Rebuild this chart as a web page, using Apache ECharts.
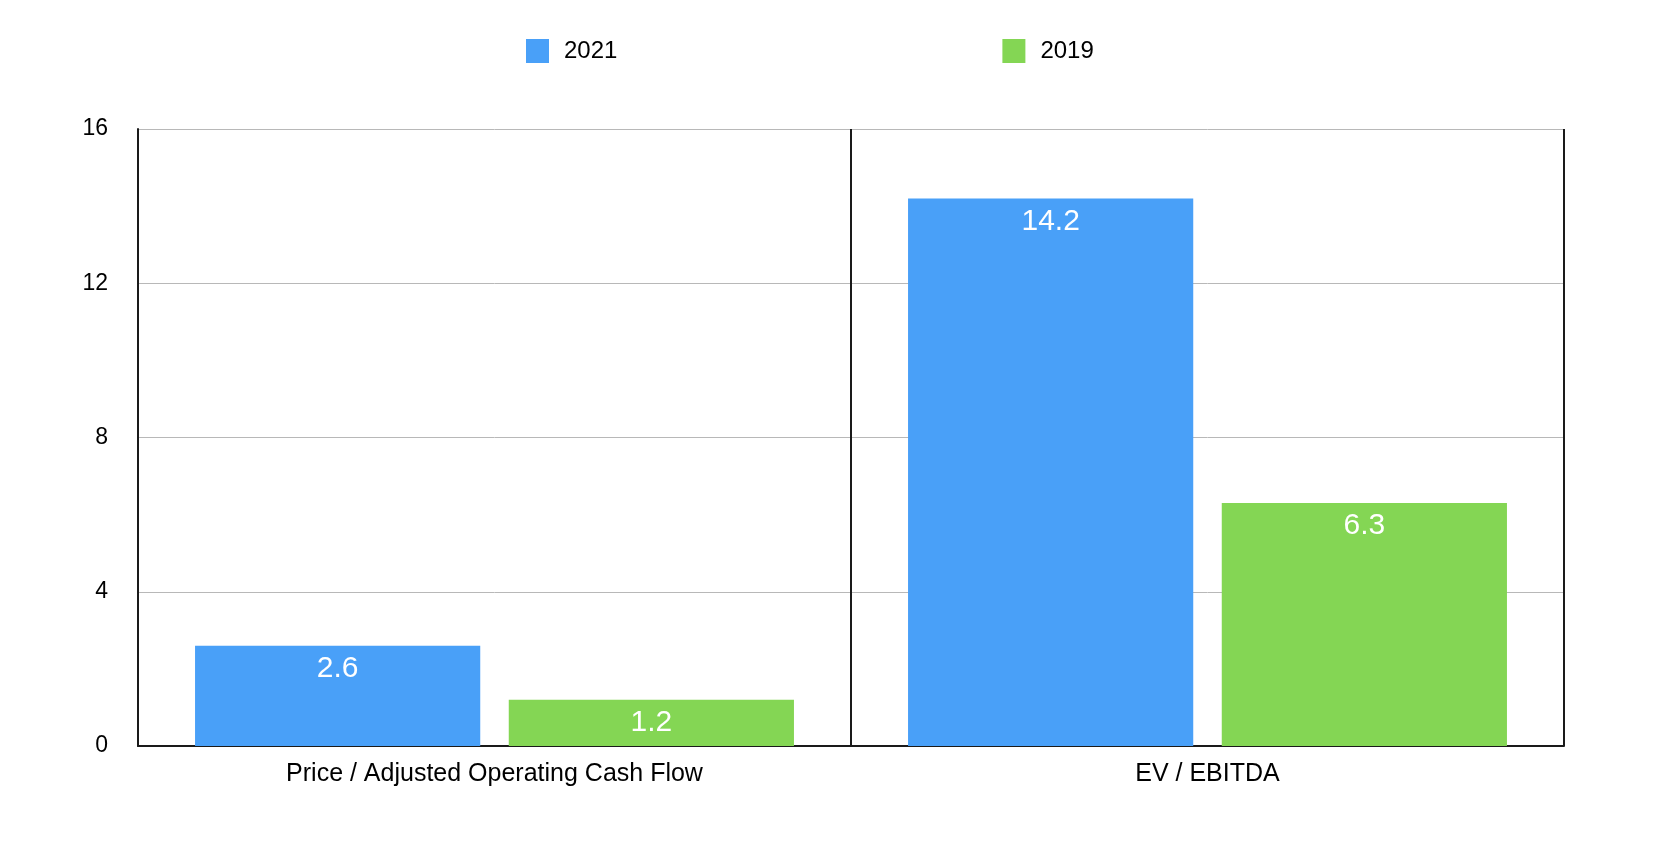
<!DOCTYPE html>
<html>
<head>
<meta charset="utf-8">
<script src="https://cdn.jsdelivr.net/npm/echarts@6/dist/echarts.min.js"></script>
<style>
html,body{margin:0;padding:0;background:#fff;}
#chart{width:1664px;height:846px;}
</style>
</head>
<body>
<div id="chart"></div>
<script>
const categories = ['Price / Adjusted Operating Cash Flow', 'EV / EBITDA'];
const seriesNames = ['2021', '2019'];
const values2021 = [2.6, 14.2];
const values2019 = [1.2, 6.3];
const yTicks = [0, 4, 8, 12, 16];

const FONT = '"Liberation Sans", Arial, Helvetica, sans-serif';
const chart = echarts.init(document.getElementById('chart'), null, {renderer: 'canvas'});
const labelCfg = {
  show: true,
  position: 'insideTop',
  distance: 8,
  color: '#fff',
  fontSize: 30,
  fontFamily: FONT
};
chart.setOption({
  animation: false,
  backgroundColor: '#fff',
  textStyle: {fontFamily: FONT},
  legend: {
    data: seriesNames,
    left: 526,
    top: 39,
    padding: 0,
    itemWidth: 23,
    itemHeight: 24,
    itemGap: 385,
    icon: 'rect',
    textStyle: {fontSize: 24, color: '#000', fontFamily: FONT, padding: [0, 0, 0, 10]}
  },
  grid: {left: 138, right: 100, top: 129, bottom: 100, containLabel: false},
  xAxis: {
    type: 'category',
    data: categories,
    axisLine: {show: true, lineStyle: {color: '#1a1a1a', width: 2}},
    axisTick: {show: false},
    splitLine: {show: true, interval: 0, lineStyle: {color: '#1a1a1a', width: 2}},
    axisLabel: {fontSize: 25, color: '#000', margin: 16, fontFamily: FONT, interval: 0}
  },
  yAxis: {
    type: 'value',
    min: yTicks[0],
    max: yTicks[yTicks.length - 1],
    interval: yTicks[1] - yTicks[0],
    axisLine: {show: true, lineStyle: {color: '#1a1a1a', width: 2}},
    axisTick: {show: false},
    splitLine: {show: true, lineStyle: {color: '#b8b8b8', width: 1}},
    axisLabel: {fontSize: 23, color: '#000', margin: 30, fontFamily: FONT}
  },
  series: [
    {name: seriesNames[0], type: 'bar', data: values2021, barWidth: '40%', barGap: '10%',
     itemStyle: {color: '#49a0f8'}, label: labelCfg},
    {name: seriesNames[1], type: 'bar', data: values2019, barWidth: '40%', barGap: '10%',
     itemStyle: {color: '#84d654'}, label: labelCfg}
  ]
});
</script>
</body>
</html>
